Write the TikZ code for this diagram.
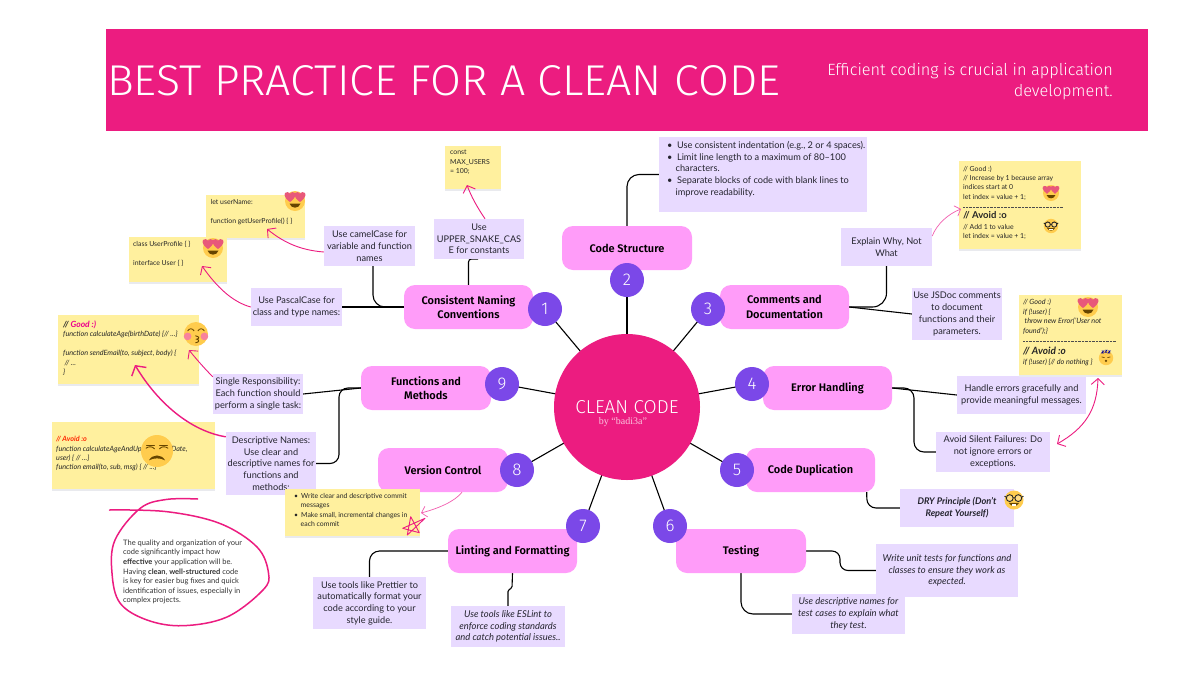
\documentclass[tikz,border=0pt]{standalone}
\usepackage{fontspec}
\usepackage{graphicx}
\usetikzlibrary{arrows.meta,calc}
\setmainfont{Lato}
\newfontfamily\titlef{Fira Sans Light}
\newfontfamily\topicf{Fira Sans SemiBold}
\newfontfamily\serif{Liberation Serif}
\definecolor{banner}{HTML}{EC1C80}
\definecolor{topicc}{HTML}{FF9CF9}
\definecolor{badgec}{HTML}{7B48E8}
\definecolor{notep}{HTML}{E8DAFF}
\definecolor{notey}{HTML}{FFF09E}
\definecolor{shade}{HTML}{E9EAEE}
\definecolor{ink}{HTML}{24242E}
\definecolor{facec}{HTML}{FFCC4D}
\definecolor{heartc}{HTML}{E8587A}
\definecolor{mouthc}{HTML}{664500}
\definecolor{softpink}{HTML}{F25FB0}
\definecolor{blush}{HTML}{F8829C}
\pgfdeclarelayer{back}
\pgfsetlayers{back,main}
\newcommand\myheart[3]{\fill[heartc,shift={(#1,#2)},scale=#3] (0,1.3) .. controls (-1.6,0.2) and (-1.6,-1) .. (-0.6,-1) .. controls (-0.2,-1) and (0,-.7) .. (0,-.5) .. controls (0,-.7) and (.2,-1) .. (.6,-1) .. controls (1.6,-1) and (1.6,.2) .. (0,1.3) -- cycle;}
\newcommand\boxat[7]{%
  \pgfmathsetmacro\cxv{(#3+#5)/2}\pgfmathsetmacro\cyv{(#4+#6)/2}%
  \pgfmathsetmacro\wv{#5-#3}\pgfmathsetmacro\hv{#6-#4}%
  \node[#2,minimum width=\wv pt,minimum height=\hv pt] (#1) at (\cxv,\cyv) {#7};}
\newcommand\yellowat[5]{%
  \pgfmathsetmacro\cxv{(#2+#4)/2}\pgfmathsetmacro\cyv{(#3+#5)/2}%
  \pgfmathsetmacro\wv{#4-#2}\pgfmathsetmacro\hv{#5-#3}%
  \node[yellowbox,minimum width=\wv pt,minimum height=\hv pt] (#1) at (\cxv,\cyv) {};}
\tikzset{
  purplebox/.style={fill=notep,inner sep=0pt,align=center,text=ink,font=\fontsize{9.2}{11.7}\selectfont},
  purpleit/.style={purplebox,font=\fontsize{9.4}{11.7}\selectfont\itshape},
  purplebf/.style={purplebox,font=\fontsize{9.2}{11.7}\selectfont\bfseries\itshape},
  topicbox/.style={fill=topicc,rounded corners=11pt,inner sep=0pt,align=center,text=black,font=\fontsize{11}{14.5}\selectfont\topicf},
  badge/.style={circle,fill=badgec,minimum size=34pt,inner sep=0pt,text=white,font=\fontsize{17}{17}\selectfont\titlef},
  yellowbox/.style={fill=notey,inner sep=0pt,preaction={fill=shade,transform canvas={yshift=-1.5pt}}},
  stickytxt/.style={anchor=north west,inner sep=0pt,align=left,text=black!85,font=\fontsize{6.9}{9.45}\selectfont},
  stickyit/.style={stickytxt,font=\fontsize{7.2}{9.45}\selectfont\itshape},
  branch/.style={draw=black,line width=1.1pt},
  spoke/.style={draw=black,line width=1.1pt},
  hand/.style={draw=banner,line width=.9pt,-{Straight Barb[length=6pt,width=13pt]}},
  handthick/.style={draw=banner,line width=1.4pt,-{Straight Barb[length=7pt,width=17pt]}},
  handsoft/.style={draw=softpink,line width=.7pt,-{Straight Barb[length=5pt,width=11pt]}},
  handdouble/.style={draw=banner,line width=.9pt,{Straight Barb[length=6pt,width=13pt]}-{Straight Barb[length=6pt,width=13pt]}},
  scribble/.style={draw=banner,line width=1.5pt,line cap=round,line join=round},
  heartface/.pic={
    \fill[facec] (0,0) circle (10);
    \myheart{-5}{-4.6}{4.3}\myheart{5}{-4.6}{4.3}
    \fill[mouthc] (-5.5,2.6) .. controls (-4,8) and (4,8) .. (5.5,2.6) -- cycle;
  },
  kissface/.pic={
    \fill[facec] (0,0) circle (10);
    \fill[blush] (-7,2) circle (3.2); \fill[blush] (7,2) circle (3.2);
    \draw[mouthc,line width=.8pt] (-7,-2.5) .. controls (-5.5,-5) and (-3,-5) .. (-1.5,-2.5);
    \draw[mouthc,line width=.8pt] (1.5,-2.5) .. controls (3,-5) and (5.5,-5) .. (7,-2.5);
    \draw[mouthc,line width=.9pt] (-.5,1.5) .. controls (3,2) and (3,4) .. (.5,4.3) .. controls (3,4.8) and (3,7) .. (-.5,7.3);
  },
  sadface/.pic={
    \fill[facec] (0,0) circle (10);
    \draw[mouthc,line width=.9pt,line cap=round] (-6.5,-3.6) -- (-1.6,-3.6);
    \draw[mouthc,line width=.9pt,line cap=round] (1.6,-3.6) -- (6.5,-3.6);
    \draw[mouthc,line width=.9pt,line cap=round] (-6.8,-1.8) .. controls (-5,-3) and (-3,-3) .. (-1.6,-1.4);
    \draw[mouthc,line width=.9pt,line cap=round] (1.6,-1.4) .. controls (3,-3) and (5,-3) .. (6.8,-1.8);
    \fill[mouthc] (-5,5.8) .. controls (-3,1.8) and (3,1.8) .. (5,5.8) .. controls (2,4.2) and (-2,4.2) .. (-5,5.8) -- cycle;
  },
  nerdface/.pic={
    \fill[facec] (0,0) circle (10);
    \draw[black!85,line width=.9pt,fill=facec!70!white] (-4.5,-2) circle (3.6);
    \draw[black!85,line width=.9pt,fill=facec!70!white] (4.5,-2) circle (3.6);
    \draw[black!85,line width=.9pt] (-.9,-2.4) -- (.9,-2.4) (-8,-3) -- (-10,-4) (8,-3) -- (10,-4);
    \fill[mouthc] (-5.5,3) .. controls (-3,7.5) and (3,7.5) .. (5.5,3) -- cycle;
    \fill[white] (-2.4,4) rectangle (2.4,6);
  },
  sleepface/.pic={
    \fill[facec] (0,0) circle (10);
    \draw[mouthc,line width=.7pt] (-6,-1.5) -- (-2,-.5) (6,-1.5) -- (2,-.5);
    \fill[mouthc] (0,4) circle (1.8);
    \draw[blue!60!black,line width=.6pt] (-6,-10) -- (-3,-10) -- (-6,-7) -- (-3,-7) (-1.5,-11) -- (1.5,-11) -- (-1.5,-8) -- (1.5,-8) (3,-10) -- (6,-10) -- (3,-7) -- (6,-7);
  },
}
\begin{document}
\begin{tikzpicture}[x=1pt,y=-1pt]
\useasboundingbox (0,0) rectangle (1200,675);
\begin{pgfonlayer}{back}
\fill[white] (0,0) rectangle (1200,675);
\end{pgfonlayer}
% banner
\fill[banner] (106,29) rectangle (1148,131);
\node[inner sep=0pt,anchor=west,text=white] (title) at (107,81) {\resizebox{673pt}{30pt}{\titlef BEST PRACTICE FOR A CLEAN CODE}};
\node[inner sep=0pt,anchor=north east,align=right,text=white,font=\fontsize{16.3}{21}\selectfont\titlef] (subtitle) at (1113,63) {Efficient coding is crucial in application\\development.};
% hub
\node[circle,fill=banner,minimum size=146pt,inner sep=0pt] (hub) at (627,407) {};
\node[inner sep=0pt,text=white] (hubtitle) at (627,407) {\resizebox{103pt}{13pt}{\titlef CLEAN CODE}};
\node[inner sep=0pt,text=white!75!banner,font=\fontsize{10}{10}\selectfont\serif] (hubby) at (623,422) {by “badi3a”};
% topics
\boxat{t1}{topicbox}{404}{285}{533}{329}{Consistent Naming\\Conventions}
\boxat{t2}{topicbox}{562}{226}{692}{270}{Code Structure}
\boxat{t3}{topicbox}{720}{285}{849}{329}{Comments and\\Documentation}
\boxat{t4}{topicbox}{763}{366}{892}{410}{Error Handling}
\boxat{t5}{topicbox}{746}{448}{875}{492}{Code Duplication}
\boxat{t6}{topicbox}{676}{529}{806}{573}{Testing}
\boxat{t7}{topicbox}{448}{529}{577}{573}{Linting and Formatting}
\boxat{t8}{topicbox}{378}{448}{508}{492}{Version Control}
\boxat{t9}{topicbox}{361}{366}{491}{410}{Functions and\\Methods}
% badges
\node[badge] (b1) at (545,309) {1};
\node[badge] (b2) at (627,280) {2};
\node[badge] (b3) at (708,309) {3};
\node[badge] (b4) at (752,384) {4};
\node[badge] (b5) at (737,470) {5};
\node[badge] (b6) at (670,526) {6};
\node[badge] (b7) at (583,526) {7};
\node[badge] (b8) at (517,470) {8};
\node[badge] (b9) at (502,384) {9};
% purple notes
\boxat{camel}{purplebox}{324}{226}{415}{266}{Use camelCase for\\variable and function\\names}
\boxat{upper}{purplebox}{434}{219}{524}{259}{Use\\UPPER\_SNAKE\_CAS\\E for constants}
\boxat{pascal}{purplebox}{251}{288}{342}{326}{Use PascalCase for\\class and type names:}
\boxat{codenote}{purplebox}{659}{137}{867}{212}{}
\node[inner sep=0pt,anchor=north west,align=left,text=ink,font=\fontsize{9.2}{11.7}\selectfont] (codetxt) at (667,141) {\textbullet\hspace{4.5pt}Use consistent indentation (e.g., 2 or 4 spaces).\\\textbullet\hspace{4.5pt}Limit line length to a maximum of 80–100\\\hspace*{8.5pt}characters.\\\textbullet\hspace{4.5pt}Separate blocks of code with blank lines to\\\hspace*{8.5pt}improve readability.};
\boxat{explain}{purplebox}{841}{228}{932}{266}{Explain Why, Not\\What}
\boxat{jsdoc}{purplebox}{912}{288}{1002}{340}{Use JSDoc comments\\to document\\functions and their\\parameters.}
\boxat{handle}{purplebox}{957}{376}{1086}{414}{Handle errors gracefully and\\provide meaningful messages.}
\boxat{silent}{purplebox}{936}{432}{1050}{472}{Avoid Silent Failures: Do\\not ignore errors or\\exceptions.}
\boxat{dry}{purplebf}{900}{489}{1014}{527}{DRY Principle (Don't\\Repeat Yourself)}
\boxat{unit}{purpleit}{876}{544}{1018}{597}{Write unit tests for functions and\\classes to ensure they work as\\expected.}
\boxat{descr}{purpleit}{792}{594}{905}{634}{Use descriptive names for\\test cases to explain what\\they test.}
\boxat{prettier}{purplebox}{313}{577}{426}{629}{Use tools like Prettier to\\automatically format your\\code according to your\\style guide.}
\boxat{eslint}{purpleit}{451}{606}{565}{647}{Use tools like ESLint to\\enforce coding standards\\and catch potential issues..}
\boxat{single}{purplebox}{213}{374}{303}{414}{Single Responsibility:\\Each function should\\perform a single task:}
\boxat{names}{purplebox}{226}{432}{316}{495}{Descriptive Names:\\Use clear and\\descriptive names for\\functions and\\methods:}
% yellow notes
\yellowat{yconst}{445}{146}{501}{189}
\node[stickytxt] (yconstt) at (450,150) {const\\MAX\_USERS\\= 100;};
\yellowat{ylet}{206}{195}{305}{238}
\node[stickytxt] (ylett) at (210.5,199) {let userName:\\[9.45pt]function getUserProfile() \{ \}};
\yellowat{yclass}{129}{237}{227}{282}
\node[stickytxt] (yclasst) at (133,241) {class UserProfile \{ \}\\[9.45pt]interface User \{ \}};
\yellowat{ygood}{58}{315}{199}{384}
\node[stickyit] (ygoodt) at (63,320.5) {{\fontsize{8.5}{9.45}\selectfont\bfseries // \textcolor{magenta}{Good :)}}\\function calculateAge(birthDate) \{// ...\}\\[9.45pt]function sendEmail(to, subject, body) \{\\\hspace*{1.5pt}// ...\\\}};
\yellowat{yavoid}{52}{422}{215}{489}
\node[stickyit] (yavoidt) at (56,436) {{\bfseries\textcolor{red!70!orange}{// Avoid :o}}\\function calculateAgeAndUpdate(birthDate,\\user) \{ // ...\}\\function email(to, sub, msg) \{ // ...\}};
\yellowat{yver}{285}{489}{420}{536}
\node[stickytxt] (yvert) at (294,493) {\textbullet\hspace{3pt}Write clear and descriptive commit\\\hspace*{6.5pt}messages\\\textbullet\hspace{3pt}Make small, incremental changes in\\\hspace*{6.5pt}each commit};
\yellowat{ycom}{959}{161}{1081}{249}
\node[stickytxt] (ycomt) at (963,165.5) {// Good :)\\// Increase by 1 because array\\indices start at 0\\let index = value + 1;};
\draw[black!70,line width=.5pt,dash pattern=on 1pt off .4pt] (963,207) -- (1063,207);
\node[stickytxt,anchor=north west,font=\fontsize{9.5}{11}\selectfont\bfseries] (ycomb) at (963,211.5) {// Avoid :o};
\node[stickytxt] (ycomc) at (963,224) {// Add 1 to value\\let index = value + 1;};
\yellowat{yerr}{1019}{295}{1122}{375}
\node[stickyit] (yerrt) at (1023,299) {// Good :)\\if (!user) \{\\\hspace*{1.5pt}throw new Error('User not\\found');\}};
\draw[black!70,line width=.5pt,dash pattern=on 1pt off .4pt] (1023,341) -- (1116,341);
\node[stickyit,font=\fontsize{10}{11}\selectfont\bfseries\itshape] (yerrb) at (1023,346.5) {// Avoid :o};
\node[stickyit] (yerrc) at (1023,358.5) {if (!user) \{// do nothing \}};
% paragraph
\node[inner sep=0pt,anchor=north west,align=left,text=black!80,font=\fontsize{7.5}{9.6}\selectfont] (para) at (123,539.5) {The quality and organization of your\\code significantly impact how\\\textbf{effective} your application will be.\\Having \textbf{clean}, \textbf{well-structured} code\\is key for easier bug fixes and quick\\identification of issues, especially in\\complex projects.};
% emoji
\pic[scale=1] at (295,201) {heartface};
\pic[scale=1] at (213,248) {heartface};
\pic[scale=1.2] at (196,334) {kissface};
\pic[scale=1.6] at (157,451) {sadface};
\pic[scale=.8] at (1051,193) {heartface};
\pic[scale=.72] at (1051,226) {nerdface};
\pic[scale=1] at (1088,307) {heartface};
\pic[scale=.72] at (1106,358) {sleepface};
\pic[scale=.95] at (1014,500) {nerdface};
% free ends
\coordinate (ea) at (267,229);
\coordinate (eb) at (202,266);
\coordinate (ec) at (467,185);
\coordinate (ed) at (961,209);
\coordinate (ee1) at (1098,378);
\coordinate (ee2) at (1057,444);
\coordinate (ef) at (189,350);
\coordinate (eg) at (135,365);
\coordinate (eh) at (421,513);
% connectors (behind the nodes)
\begin{pgfonlayer}{back}
\foreach \n in {1,...,9} {\draw[spoke] (hub.center) -- (b\n.center);}
\draw[branch] (t1.west) -- (pascal.east);
\draw[branch,rounded corners=12pt] (t1.west) -| ([xshift=3.5pt]camel.south);
\draw[branch,rounded corners=3pt] (t1.north) -- (468.5,259) -- (478,259);
\draw[branch,rounded corners=12pt] (t2.north) |- (codenote.west);
\draw[branch,rounded corners=14pt] (t3.east) -| (explain.south);
\draw[branch] (t3.east) -- (jsdoc.west);
\draw[branch] (t4.east) -- (handle.west);
\draw[branch,rounded corners=10pt] (t4.east) -- (914,388) -- (914,452) -- (silent.west);
\draw[branch,rounded corners=9pt] ([xshift=-.5pt]t5.south east) ++(-8,0) -- (867,508) -- (dry.west);
\draw[branch,rounded corners=8pt] (t6.east) -- (840,551) -- (840,570.5) -- (unit.west);
\draw[branch,rounded corners=12pt] (t6.south) |- (descr.west);
\draw[branch,rounded corners=10pt] (t7.west) -| (prettier.north);
\draw[branch,rounded corners=1.5pt] (t7.south) -- (512,588) -- (508,590) -- (eslint.north);
\draw[branch] (t9.west) -- (single.east);
\draw[branch,rounded corners=9pt] (t9.west) -- (339,388) -- (339,463.5) -- (names.east);
\end{pgfonlayer}
% hand drawn arrows
\draw[hand] ([yshift=-6pt]camel.west) .. controls (298,250) and (282,241) .. (ea);
\draw[hand] (pascal.west) .. controls (232,302) and (216,286) .. (eb);
\draw[hand] ([xshift=6pt]upper.north) .. controls (477,207) and (471,196) .. (ec);
\draw[handsoft] ([yshift=11pt]explain.east) .. controls (937,224) and (948,214) .. (ed);
\draw[handdouble] (ee1) .. controls (1097,410) and (1085,428) .. (ee2);
\draw[hand] ([yshift=-3pt]single.north west) .. controls (206,370) and (197,360) .. (ef);
\draw[handthick] ([yshift=-5pt]names.north west) .. controls (190,431) and (157,402) .. (eg);
\draw[handsoft] ([xshift=19pt]t8.south) .. controls (455,501) and (440,508) .. (eh);
% star
\draw[scribble,line width=.9pt] (410.7,516.7) -- (419.3,532.7) -- (402.7,528.3) -- (425,518.3) -- (407.3,535) -- cycle;
% ring
\draw[scribble] plot[smooth,tension=.6] coordinates {(197.7,499) (166,499.5) (140,508.5) (115,540) (112,573) (120,603) (147,620) (183,625.7) (227,617) (263,590) (268.5,573) (257,547) (220,523.5) (167,511.7) (109.5,510)};
\end{tikzpicture}
\end{document}
